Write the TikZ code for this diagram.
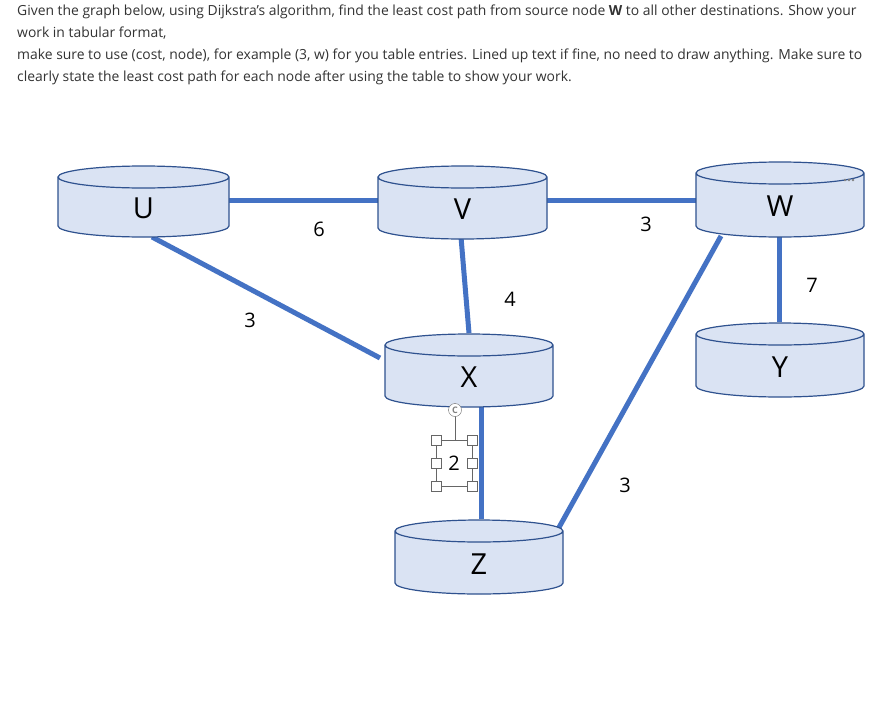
\documentclass[tikz,border=0pt]{standalone}
\usepackage{fontspec}
\setmainfont{Open Sans}
\begin{document}
\begin{tikzpicture}[x=1pt,y=-1pt,
  edge/.style={draw=eblue,line width=5pt},
  lbl/.style={font=\fontsize{20}{24}\selectfont,text=black},
  nlbl/.style={font=\fontsize{29}{34}\selectfont,text=black},
  hdl/.style={draw=gray!80!black,fill=white,line width=0.8pt,minimum size=10pt,inner sep=0pt},
  para/.style={anchor=west,font=\fontsize{13.9}{16}\selectfont,text=black!80,inner sep=0pt}]
\definecolor{eblue}{HTML}{4472C4}
\definecolor{cfill}{HTML}{DAE3F3}
\definecolor{cline}{HTML}{2F528F}
\useasboundingbox (0,0) rectangle (890,701);
\fill[white] (0,0) rectangle (890,701);
\newcommand{\mycyl}[6]{% name cx topy boty hw label
  \filldraw[fill=cfill,draw=cline,line width=1.2pt] (#2-#5,#3) -- (#2-#5,#4) arc[start angle=180,end angle=360,x radius=#5,y radius=-11] -- (#2+#5,#3) arc[start angle=0,end angle=360,x radius=#5,y radius=-11];
  \node[nlbl] (#1) at (#2,{(#3+#4)/2+7}) {#6};}
\node[para] (t1) at (17,12) {Given the graph below, using Dijkstra's algorithm, find the least cost path from source node \textbf{W} to all other destinations. Show your};
\node[para] (t2) at (17,33) {work in tabular format,};
\node[para] (t3) at (17,56) {make sure to use (cost, node), for example (3, w) for you table entries. Lined up text if fine, no need to draw anything. Make sure to};
\node[para] (t4) at (17,78) {clearly state the least cost path for each node after using the table to show your work.};
\coordinate (uv1) at (229,200); \coordinate (uv2) at (378,200);
\coordinate (vw1) at (547,200); \coordinate (vw2) at (696,200);
\coordinate (ux1) at (152,237); \coordinate (ux2) at (380,358);
\coordinate (vx1) at (461,237); \coordinate (vx2) at (469,333);
\coordinate (wz1) at (721,236); \coordinate (wz2) at (557,531);
\coordinate (wy1) at (779,236); \coordinate (wy2) at (779,322);
\coordinate (xz1) at (481,406); \coordinate (xz2) at (481,519);
\draw[edge] (uv1) -- (uv2); \draw[edge] (vw1) -- (vw2);
\draw[edge] (ux1) -- (ux2); \draw[edge] (vx1) -- (vx2);
\draw[edge] (wz1) -- (wz2); \draw[edge] (wy1) -- (wy2);
\draw[edge] (xz1) -- (xz2);
\mycyl{U}{143.5}{177}{226}{85.5}{U}
\mycyl{V}{462.5}{177}{228}{84.5}{V}
\mycyl{W}{780}{173}{226}{84}{W}
\mycyl{X}{469}{345}{396}{84}{X}
\mycyl{Y}{780}{334}{386}{84}{Y}
\mycyl{Z}{479}{531}{583}{84}{Z}
\node[lbl] (l6) at (319,229) {6};
\node[lbl] (l3a) at (646,224) {3};
\node[lbl] (l4) at (510,299) {4};
\node[lbl] (l7) at (812,285) {7};
\node[lbl] (l3b) at (250,320) {3};
\node[lbl] (l3c) at (625,485) {3};
\draw[gray!80!black,line width=0.8pt] (436,440) rectangle (472,486) (455,416) -- (455,440);
\node[lbl] (l2) at (454,463) {2};
\foreach \p in {(436,440),(472,440),(436,463),(472,463),(436,486),(472,486)} \node[hdl] at \p {};
\node[circle,draw=gray!80!black,fill=white,minimum size=13pt,inner sep=0pt,font=\fontsize{9}{9}\selectfont\bfseries,text=gray] (rot) at (455,410) {C};
\foreach \dx in {0,4,8} \fill[gray] (845+\dx,180) circle (1.3);
\end{tikzpicture}
\end{document}
